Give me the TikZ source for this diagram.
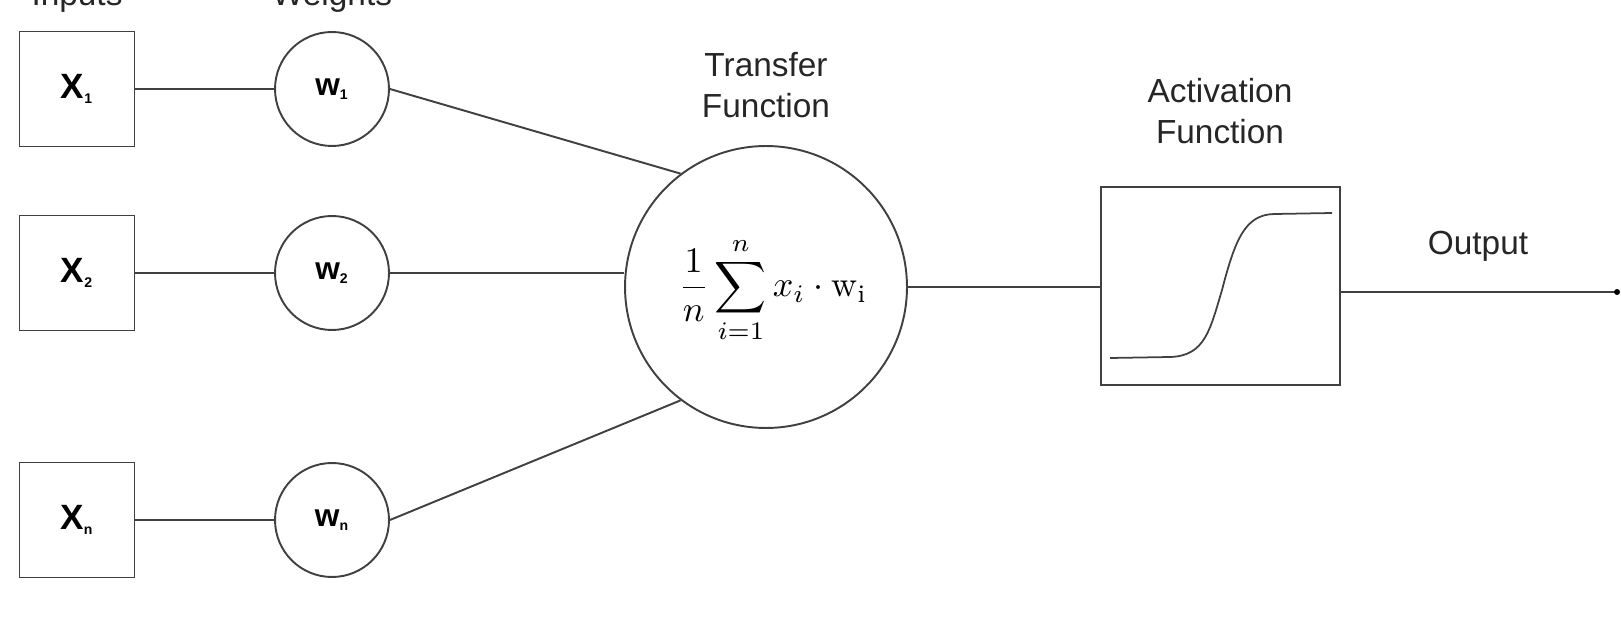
\documentclass[tikz,border=0pt]{standalone}
\usepackage{fontspec}
\setmainfont{Liberation Sans}
\newfontfamily\lmrfont{Latin Modern Roman}
\begin{document}
\begin{tikzpicture}[x=0.02cm,y=-0.02cm,
  ln/.style={draw=black!75,line width=1.1pt},
  inbox/.style={ln,minimum size=2.3cm,inner sep=0pt,font=\fontsize{20}{22}\selectfont\bfseries},
  wcirc/.style={ln,circle,minimum size=2.28cm,inner sep=0pt,font=\fontsize{18}{20}\selectfont\bfseries},
  lbl/.style={font=\fontsize{19}{23}\selectfont,align=center,text=black!85}]
\useasboundingbox (0,0) rectangle (1621,641);
\node[inbox] (x1) at (77,89) {X\textsubscript{\footnotesize 1}};
\node[inbox] (x2) at (77,273) {X\textsubscript{\footnotesize 2}};
\node[inbox] (xn) at (77,520) {X\textsubscript{\footnotesize n}};
\node[wcirc] (w1) at (332,89) {w\textsubscript{\footnotesize 1}};
\node[wcirc] (w2) at (332,273) {w\textsubscript{\footnotesize 2}};
\node[wcirc] (wn) at (332,520) {w\textsubscript{\footnotesize n}};
\node[ln,circle,minimum size=5.64cm,inner sep=0pt] (t) at (766,287) {};
\node (f) at (773,290) {\scalebox{2.05}{$\displaystyle\frac{1}{n}\sum_{i=1}^{n} x_i\cdot \hbox{\lmrfont w}_{\hbox{\scriptsize\lmrfont i}}$}};
\node[ln,minimum width=4.78cm,minimum height=3.96cm,inner sep=0pt] (a) at (1220.5,286) {};
\coordinate (o) at (1617,292);
\node[lbl,anchor=base] (il) at (77,6) {Inputs};
\node[lbl,anchor=base] (wl) at (332,6) {Weights};
\node[lbl] (tl) at (766,85) {Transfer\\Function};
\node[lbl] (al) at (1220,111) {Activation\\Function};
\node[lbl] (ol) at (1478,246) {Output};
\draw[ln] (x1) -- (w1); \draw[ln] (x2) -- (w2); \draw[ln] (xn) -- (wn);
\draw[ln] (w1.east) -- (t.127);
\draw[ln] (w2.east) -- (w2.east -| t.west);
\draw[ln] (wn.east) -- (t.233);
\draw[ln] (t.east) -- (t.east -| a.west);
\draw[ln] (a.west |- o) ++(239,0) -- (o);
\fill[black] (o) circle (3);
\draw[ln,line width=1pt] (1110,358) -- (1170,357) .. controls (1205,356) and (1210,330) .. (1222,290) .. controls (1235,240) and (1245,214) .. (1275,214) -- (1332,213);
\end{tikzpicture}
\end{document}
